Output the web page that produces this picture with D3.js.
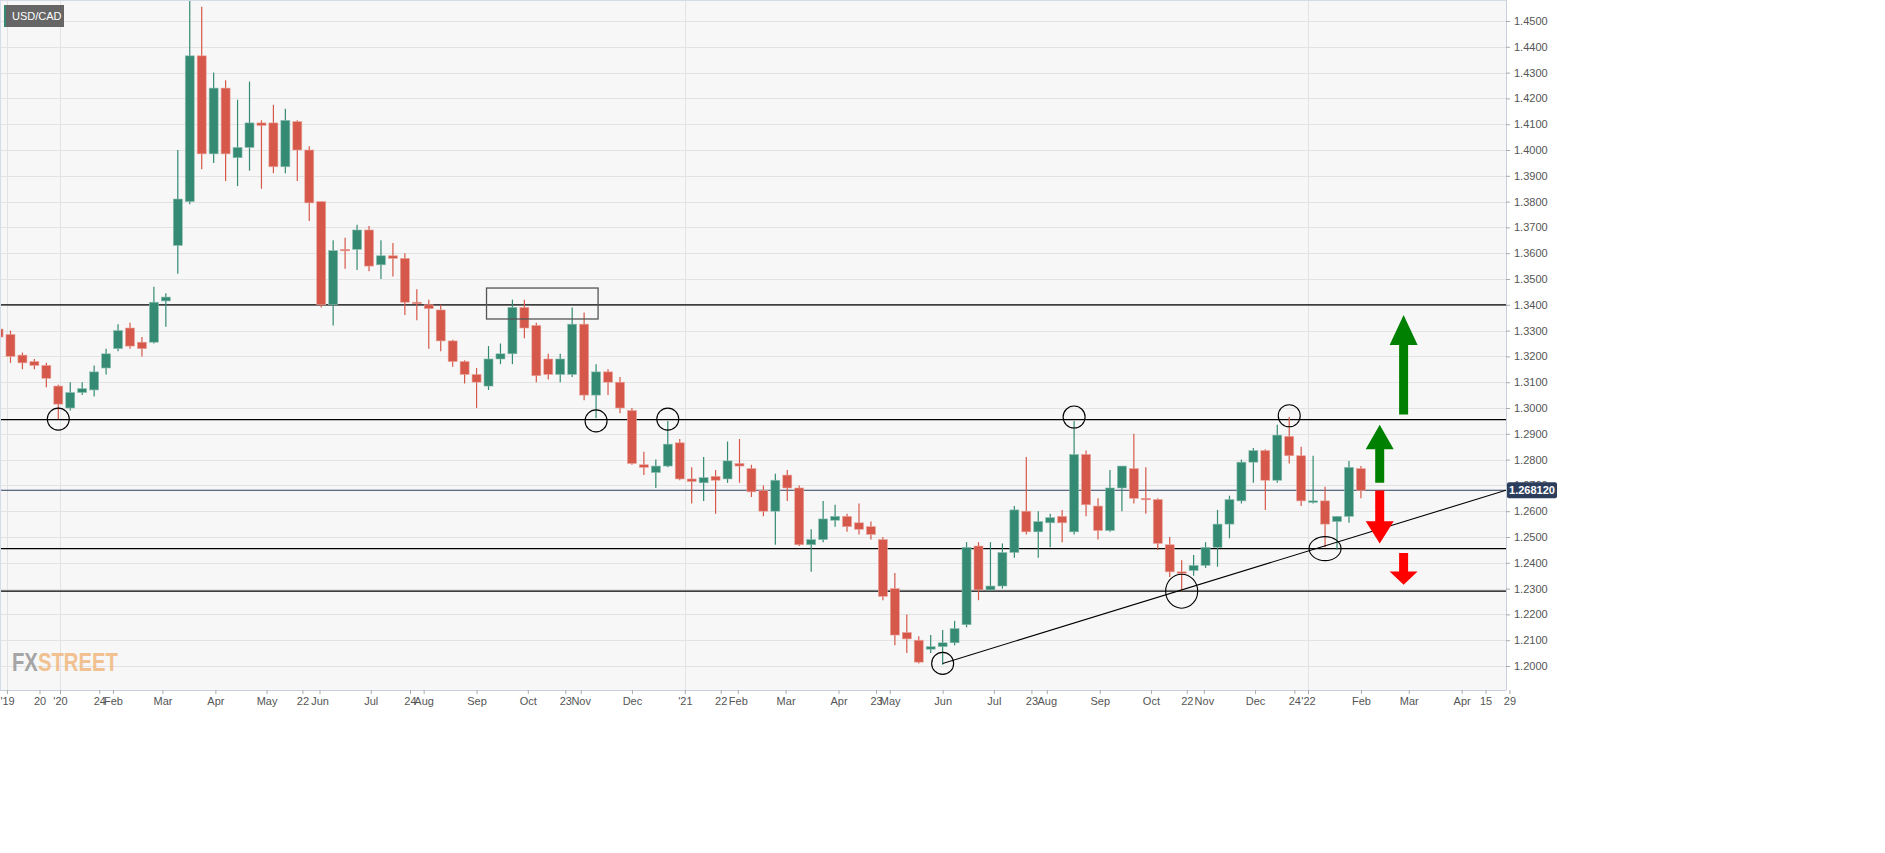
<!DOCTYPE html>
<html><head><meta charset="utf-8">
<script src="https://cdn.jsdelivr.net/npm/d3@7"></script>
<style>body{margin:0;background:#fff;}svg{display:block;font-family:"Liberation Sans",Arial,sans-serif;}</style>
</head><body><svg id="c" width="1885" height="853"></svg>
<script>
// Weekly candles USD/CAD, starting week of 2019-11-26
const firstWeek = "2019-11-26";
const opens  = [1.3306,1.3285,1.3205,1.3180,1.3165,1.3085,1.3000,1.3060,1.3070,1.3155,1.3230,1.3310,1.3255,1.3255,1.3415,1.3630,1.3800,1.4365,1.3985,1.4240,1.3970,1.4010,1.4105,1.4105,1.3935,1.4110,1.4000,1.3800,1.3400,1.3615,1.3615,1.3690,1.3555,1.3590,1.3580,1.3410,1.3400,1.3380,1.3260,1.3180,1.3130,1.3085,1.3190,1.3210,1.3390,1.3320,1.3190,1.3130,1.3130,1.3325,1.3050,1.3140,1.3100,1.2990,1.2780,1.2750,1.2775,1.2865,1.2725,1.2710,1.2735,1.2725,1.2785,1.2765,1.2680,1.2600,1.2740,1.2690,1.2470,1.2490,1.2565,1.2580,1.2555,1.2540,1.2490,1.2300,1.2130,1.2100,1.2065,1.2075,1.2090,1.2160,1.2465,1.2295,1.2310,1.2440,1.2600,1.2520,1.2555,1.2580,1.2520,1.2820,1.2620,1.2525,1.2690,1.2765,1.2650,1.2645,1.2470,1.2365,1.2370,1.2390,1.2460,1.2550,1.2640,1.2790,1.2835,1.2720,1.2890,1.2815,1.2635,1.2640,1.2560,1.2580,1.2765];
const highs  = [1.3320,1.3300,1.3215,1.3190,1.3175,1.3090,1.3100,1.3100,1.3165,1.3230,1.3325,1.3330,1.3275,1.3470,1.3445,1.4000,1.4670,1.4555,1.4300,1.4270,1.4195,1.4265,1.4115,1.4175,1.4160,1.4115,1.4015,1.3800,1.3650,1.3660,1.3710,1.3705,1.3650,1.3640,1.3600,1.3460,1.3420,1.3400,1.3265,1.3185,1.3155,1.3240,1.3250,1.3420,1.3420,1.3330,1.3210,1.3210,1.3390,1.3370,1.3170,1.3150,1.3120,1.3000,1.2830,1.2800,1.2950,1.2880,1.2770,1.2810,1.2760,1.2870,1.2880,1.2780,1.2700,1.2745,1.2760,1.2700,1.2530,1.2640,1.2625,1.2590,1.2630,1.2560,1.2500,1.2360,1.2200,1.2115,1.2120,1.2140,1.2175,1.2480,1.2480,1.2480,1.2475,1.2620,1.2810,1.2600,1.2590,1.2605,1.2950,1.2835,1.2650,1.2760,1.2775,1.2900,1.2770,1.2650,1.2500,1.2410,1.2430,1.2480,1.2605,1.2660,1.2800,1.2845,1.2840,1.2935,1.2965,1.2850,1.2815,1.2695,1.2580,1.2795,1.2775];
const lows   = [1.3265,1.3175,1.3150,1.3150,1.3080,1.2957,1.2990,1.3050,1.3045,1.3130,1.3220,1.3230,1.3200,1.3250,1.3315,1.3520,1.3790,1.3925,1.3950,1.3880,1.3860,1.3920,1.3850,1.3910,1.3910,1.3880,1.3725,1.3390,1.3320,1.3540,1.3535,1.3530,1.3500,1.3510,1.3360,1.3340,1.3230,1.3220,1.3160,1.3095,1.3000,1.3070,1.3170,1.3170,1.3270,1.3100,1.3110,1.3100,1.3120,1.3030,1.2960,1.3050,1.2980,1.2780,1.2740,1.2690,1.2770,1.2720,1.2630,1.2640,1.2590,1.2710,1.2710,1.2655,1.2580,1.2470,1.2640,1.2465,1.2365,1.2480,1.2540,1.2520,1.2510,1.2490,1.2255,1.2080,1.2050,1.2010,1.2050,1.2005,1.2080,1.2150,1.2255,1.2290,1.2300,1.2420,1.2510,1.2420,1.2460,1.2480,1.2510,1.2580,1.2490,1.2520,1.2600,1.2630,1.2590,1.2450,1.2345,1.2290,1.2350,1.2380,1.2385,1.2495,1.2630,1.2710,1.2605,1.2710,1.2785,1.2620,1.2630,1.2460,1.2450,1.2555,1.2650];
const closes = [1.3275,1.3200,1.3175,1.3165,1.3115,1.3015,1.3060,1.3075,1.3140,1.3210,1.3300,1.3240,1.3230,1.3410,1.3430,1.3810,1.4365,1.3985,1.4240,1.3985,1.4010,1.4105,1.4095,1.3935,1.4115,1.4000,1.3795,1.3400,1.3610,1.3610,1.3690,1.3550,1.3590,1.3580,1.3410,1.3405,1.3385,1.3260,1.3180,1.3130,1.3100,1.3190,1.3210,1.3390,1.3310,1.3125,1.3130,1.3190,1.3325,1.3050,1.3140,1.3100,1.3000,1.2785,1.2770,1.2775,1.2860,1.2725,1.2715,1.2730,1.2720,1.2795,1.2775,1.2675,1.2600,1.2720,1.2690,1.2470,1.2490,1.2570,1.2580,1.2540,1.2530,1.2510,1.2270,1.2120,1.2105,1.2015,1.2075,1.2090,1.2145,1.2460,1.2295,1.2310,1.2440,1.2605,1.2520,1.2560,1.2575,1.2555,1.2820,1.2625,1.2525,1.2690,1.2775,1.2650,1.2645,1.2475,1.2365,1.2360,1.2390,1.2460,1.2550,1.2645,1.2790,1.2835,1.2720,1.2895,1.2815,1.2640,1.2640,1.2550,1.2580,1.2770,1.26812];
const yTicks = [1.20,1.21,1.22,1.23,1.24,1.25,1.26,1.27,1.28,1.29,1.30,1.31,1.32,1.33,1.34,1.35,1.36,1.37,1.38,1.39,1.40,1.41,1.42,1.43,1.44,1.45];
const xTickDates  = ["2019-12-01","2019-12-20","2020-01-01","2020-01-24","2020-02-01","2020-03-01","2020-04-01","2020-05-01","2020-05-22","2020-06-01","2020-07-01","2020-07-24","2020-08-01","2020-09-01","2020-10-01","2020-10-23","2020-11-01","2020-12-01","2021-01-01","2021-01-22","2021-02-01","2021-03-01","2021-04-01","2021-04-23","2021-05-01","2021-06-01","2021-07-01","2021-07-23","2021-08-01","2021-09-01","2021-10-01","2021-10-22","2021-11-01","2021-12-01","2021-12-24","2022-01-01","2022-02-01","2022-03-01","2022-04-01","2022-04-15","2022-04-29"];
const xTickLabels = ["'19","20","'20","24","Feb","Mar","Apr","May","22","Jun","Jul","24","Aug","Sep","Oct","23","Nov","Dec","'21","22","Feb","Mar","Apr","23","May","Jun","Jul","23","Aug","Sep","Oct","22","Nov","Dec","24","'22","Feb","Mar","Apr","15","29"];
const levels = [1.3400,1.2955,1.2455,1.2290];
const lastPrice = 1.26812;
const trendStart = {idx:79, value:1.2010};
const circles = [{idx:5,v:1.2957},{idx:50,v:1.2950},{idx:56,v:1.2957},{idx:90,v:1.2965},{idx:108,v:1.2970},{idx:79,v:1.2010},{idx:99,v:1.2290},{idx:111,v:1.2455}];
const boxRange = {from:41, to:50, top:1.3465, bottom:1.3345};
const arrows = [
 {date:"2022-02-26", from:1.2975, to:1.3360, color:"#008000"},
 {date:"2022-02-12", from:1.2710, to:1.2935, color:"#008000"},
 {date:"2022-02-12", from:1.2680, to:1.2475, color:"#ff0000"},
 {date:"2022-02-26", from:1.2438, to:1.2315, color:"#ff0000"}];

const svg = d3.select("#c");
const W=1885, plotR=1506, plotB=690;
const t0 = d3.timeParse("%Y-%m-%d");
const x = d3.scaleTime().domain([t0("2020-01-01"), t0("2022-01-01")]).range([60,1308]);
const y = d3.scaleLinear().domain([1.20,1.45]).range([666,21]);
const day = 864e5;
const start = t0(firstWeek);
const candles = opens.map((o,i)=>({d:new Date(+start+i*7*day),o,h:highs[i],l:lows[i],c:closes[i]}));
const cx = i => x(candles[i].d);

svg.append("rect").attr("width",W).attr("height",853).attr("fill","#ffffff");
svg.append("rect").attr("x",0).attr("y",0).attr("width",plotR).attr("height",plotB).attr("fill","#f7f7f7");
const clip = svg.append("clipPath").attr("id","pc").append("rect").attr("width",plotR).attr("height",plotB);
const g = svg.append("g").attr("clip-path","url(#pc)");

// gridlines
g.selectAll(".hg").data(yTicks).join("line").attr("x1",0).attr("x2",plotR)
 .attr("y1",d=>Math.round(y(d))+0.5).attr("y2",d=>Math.round(y(d))+0.5).attr("stroke","#e3e3e3");
const majors = xTickLabels.map((t,i)=>t.startsWith("'")?xTickDates[i]:null).filter(Boolean);
g.selectAll(".vg").data(majors).join("line").attr("y1",0).attr("y2",plotB)
 .attr("x1",d=>Math.round(x(t0(d)))+0.5).attr("x2",d=>Math.round(x(t0(d)))+0.5).attr("stroke","#e3e3e3");

// levels
g.selectAll(".lv").data(levels).join("line").attr("x1",0).attr("x2",plotR)
 .attr("y1",d=>y(d)).attr("y2",d=>y(d)).attr("stroke","#000").attr("stroke-width",1.3);
g.append("line").attr("x1",0).attr("x2",plotR).attr("y1",y(lastPrice)).attr("y2",y(lastPrice)).attr("stroke","#2c3e5c").attr("stroke-width",1);

// candles
const up="#348a73", dn="#d6584a";
const cg = g.selectAll(".cd").data(candles).join("g");
cg.append("line").attr("x1",d=>x(d.d)).attr("x2",d=>x(d.d)).attr("y1",d=>y(d.h)).attr("y2",d=>y(d.l))
 .attr("stroke",d=>d.c>=d.o?up:dn).attr("stroke-width",1.2);
cg.append("rect").attr("x",d=>x(d.d)-4.5).attr("width",9)
 .attr("y",d=>y(Math.max(d.o,d.c))).attr("height",d=>Math.max(1.5,Math.abs(y(d.o)-y(d.c))))
 .attr("fill",d=>d.c>=d.o?up:dn).attr("stroke",d=>d.c>=d.o?"#8fc0b2":"#eaa49b").attr("stroke-width",0.6);

// trendline
g.append("line").attr("x1",cx(trendStart.idx)).attr("y1",y(trendStart.value)).attr("x2",plotR).attr("y2",y(lastPrice))
 .attr("stroke","#000").attr("stroke-width",1.1);

// circles
g.selectAll(".ci").data(circles).join("ellipse").attr("cx",d=>cx(d.idx)).attr("cy",d=>y(d.v))
 .attr("rx",d=>d.idx===99||d.idx===111?16:11).attr("ry",d=>d.idx===99?17:(d.idx===111?12:11))
 .attr("fill","none").attr("stroke","#000").attr("stroke-width",1.1);

// box
g.append("rect").attr("x",cx(boxRange.from)-2).attr("y",y(boxRange.top))
 .attr("width",cx(boxRange.to)-cx(boxRange.from)+4).attr("height",y(boxRange.bottom)-y(boxRange.top))
 .attr("fill","none").attr("stroke","#555").attr("stroke-width",1.3);

// arrows
arrows.forEach(a=>{
  const ax=x(t0(a.date)), y0=y(a.from), y1=y(a.to);
  const dir = y1<y0?-1:1; const headL=Math.min(30,Math.abs(y1-y0)*0.42); const hb=y1-dir*headL;
  const sw=4.5, hw=14;
  const pts=[[ax-sw,y0],[ax+sw,y0],[ax+sw,hb],[ax+hw,hb],[ax,y1],[ax-hw,hb],[ax-sw,hb]];
  g.append("polygon").attr("points",pts.map(p=>p.join(",")).join(" ")).attr("fill",a.color);
});

// borders
svg.append("line").attr("x1",0).attr("x2",plotR).attr("y1",0.5).attr("y2",0.5).attr("stroke","#d5dbe8");
svg.append("line").attr("x1",0.5).attr("x2",0.5).attr("y1",0).attr("y2",plotB).attr("stroke","#d5dbe8");
svg.append("line").attr("x1",plotR+0.5).attr("x2",plotR+0.5).attr("y1",0).attr("y2",plotB).attr("stroke","#c9cfdc");
svg.append("line").attr("x1",0).attr("x2",plotR).attr("y1",plotB+0.5).attr("y2",plotB+0.5).attr("stroke","#c9cfdc");

// y axis
const ya = svg.append("g").attr("transform",`translate(${plotR},0)`)
 .call(d3.axisRight(y).tickValues(yTicks).tickFormat(d3.format(".4f")).tickSize(4).tickPadding(4));
ya.select(".domain").remove();
ya.selectAll("line").attr("stroke","#aaa");
ya.selectAll("text").attr("fill","#555").style("font-size","11px");

// x axis
const xa = svg.append("g").attr("transform",`translate(0,${plotB})`)
 .call(d3.axisBottom(x).tickValues(xTickDates.map(t0)).tickFormat((d,i)=>xTickLabels[i]).tickSize(4).tickPadding(3));
xa.select(".domain").remove();
xa.selectAll("line").attr("stroke","#aaa");
xa.selectAll("text").attr("fill","#555").style("font-size","11px");

// price label
svg.append("rect").attr("x",plotR+1).attr("y",y(lastPrice)-8).attr("width",50).attr("height",16).attr("rx",2).attr("fill","#2c3e5c");
svg.append("text").attr("x",plotR+26).attr("y",y(lastPrice)+4).attr("text-anchor","middle")
 .attr("fill","#fff").style("font-size","11px").style("font-weight","bold").text(d3.format(".6f")(lastPrice));

// title box
svg.append("rect").attr("x",4).attr("y",5).attr("width",60).attr("height",22).attr("fill","#666");
svg.append("rect").attr("x",4).attr("y",5).attr("width",2).attr("height",22).attr("fill","#348a73");
svg.append("text").attr("x",12).attr("y",20).attr("fill","#fff").style("font-size","11px").text("USD/CAD");

// watermark
const wm = svg.append("text").attr("x",12).attr("y",671).style("font-size","26px").style("font-weight","bold")
 .attr("transform","translate(12,671) scale(0.78,1) translate(-12,-671)").attr("opacity",0.75);
wm.append("tspan").attr("fill","#8a8a8a").text("FX");
wm.append("tspan").attr("fill","#f0b070").text("STREET");
</script></body></html>
